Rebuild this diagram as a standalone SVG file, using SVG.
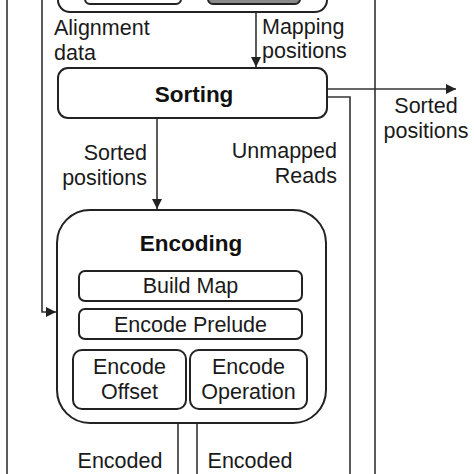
<svg xmlns="http://www.w3.org/2000/svg" width="474" height="474" viewBox="0 0 474 474">
<defs>
<style>
.box{fill:#fff;stroke:#222;stroke-width:2}
.gray{fill:#8a8a8a;stroke:#222;stroke-width:2}
.ln{fill:none;stroke:#333;stroke-width:1.6}
.t{font-family:"Liberation Sans",Arial,sans-serif;font-size:21.5px;fill:#1a1a1a}
.b{font-family:"Liberation Sans",Arial,sans-serif;font-size:22.5px;font-weight:bold;fill:#111}
.c{text-anchor:middle}
.r{text-anchor:end}
</style>
<marker id="ah" viewBox="0 0 10 10" refX="10" refY="5" markerWidth="10" markerHeight="10" markerUnits="userSpaceOnUse" orient="auto">
<path d="M0,0 L10,5 L0,10 z" fill="#222"/>
</marker>
</defs>
<rect width="474" height="474" fill="#fff"/>

<g id="connectors">
<line class="ln" x1="7" y1="0" x2="7" y2="474"/>
<polyline class="ln" points="42,0 42,312 56,312" marker-end="url(#ah)"/>
<line class="ln" x1="256" y1="12" x2="256" y2="67" marker-end="url(#ah)"/>
<line class="ln" x1="327" y1="89" x2="456" y2="89" marker-end="url(#ah)"/>
<polyline class="ln" points="327,97 350,97 350,474"/>
<line class="ln" x1="375" y1="0" x2="375" y2="474"/>
<line class="ln" x1="157" y1="118" x2="157" y2="209" marker-end="url(#ah)"/>
<line class="ln" x1="178" y1="423" x2="178" y2="474"/>
<line class="ln" x1="197" y1="423" x2="197" y2="474"/>
</g>

<g id="top-node">
<rect class="box" x="58" y="-40" width="269" height="52" rx="12"/>
<rect class="box" x="85" y="-30" width="96" height="34" rx="5"/>
<rect class="gray" x="208" y="-30" width="92" height="34" rx="5"/>
</g>

<g id="labels">
<text class="t" x="54" y="35">Alignment</text>
<text class="t" x="54" y="60">data</text>
<text class="t" x="262" y="34">Mapping</text>
<text class="t" x="262" y="58">positions</text>
<text class="t c" x="426" y="113">Sorted</text>
<text class="t c" x="426" y="138">positions</text>
<text class="t r" x="147" y="160">Sorted</text>
<text class="t r" x="147" y="185">positions</text>
<text class="t r" x="337" y="158">Unmapped</text>
<text class="t r" x="337" y="183">Reads</text>
<text class="t c" x="120" y="468">Encoded</text>
<text class="t c" x="250" y="468">Encoded</text>
</g>

<g id="sorting">
<rect class="box" x="58" y="68" width="269" height="50" rx="10"/>
<text class="b c" x="194" y="102">Sorting</text>
</g>

<g id="encoding">
<rect class="box" x="57" y="210" width="269" height="213" rx="33"/>
<text class="b c" x="191" y="251">Encoding</text>
</g>

<g id="build-map">
<rect class="box" x="79" y="271" width="223" height="30" rx="6"/>
<text class="t c" x="190.5" y="293">Build Map</text>
</g>

<g id="encode-prelude">
<rect class="box" x="79" y="309" width="223" height="30" rx="6"/>
<text class="t c" x="190.5" y="332">Encode Prelude</text>
</g>

<g id="encode-offset">
<rect class="box" x="73" y="350" width="113" height="59" rx="9"/>
<text class="t c" x="129.5" y="374">Encode</text>
<text class="t c" x="129.5" y="399">Offset</text>
</g>

<g id="encode-operation">
<rect class="box" x="190" y="350" width="117" height="59" rx="9"/>
<text class="t c" x="248.5" y="374">Encode</text>
<text class="t c" x="248.5" y="399">Operation</text>
</g>
</svg>
